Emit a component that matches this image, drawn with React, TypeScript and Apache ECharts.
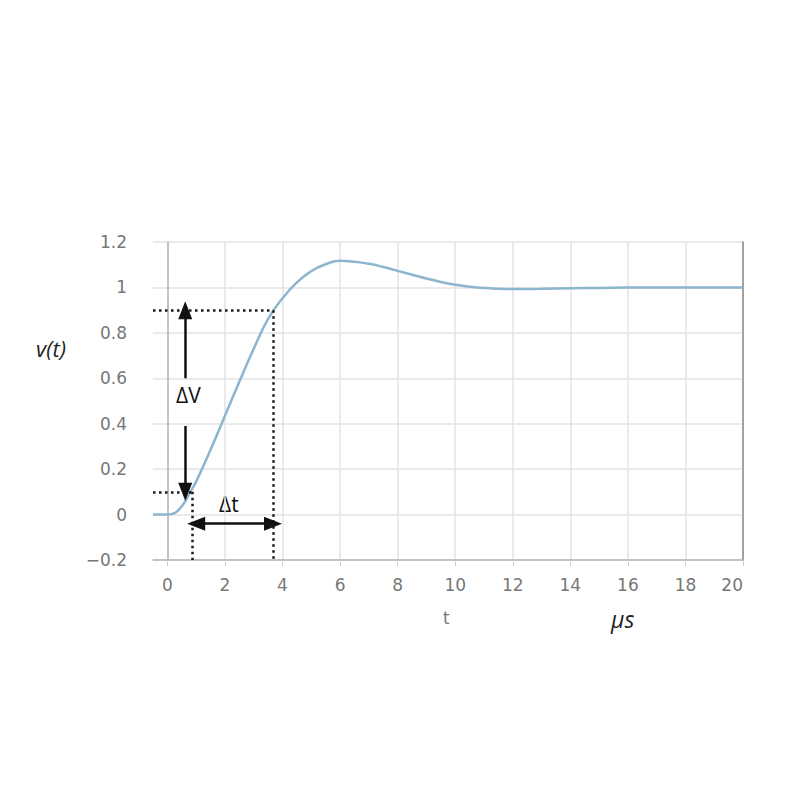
import React, { useEffect, useRef } from "react";
import * as echarts from "echarts";

// step response v(t), t in microseconds
const tValues = [-0.5, 0, 0.2, 0.4, 0.6, 0.8, 1.0, 1.5, 2.0, 2.5, 3.0, 3.5, 4.0, 4.5, 5.0, 5.5, 6.0, 6.5, 7.0, 7.5, 8.0, 8.5, 9.0, 9.5, 10, 10.5, 11, 11.5, 12, 13, 14, 15, 16, 18, 20];
const vValues = [0, 0, 0.004, 0.022, 0.055, 0.1, 0.145, 0.285, 0.435, 0.585, 0.73, 0.862, 0.952, 1.022, 1.072, 1.102, 1.117, 1.113, 1.104, 1.09, 1.073, 1.056, 1.039, 1.024, 1.012, 1.003, 0.997, 0.994, 0.993, 0.994, 0.996, 0.998, 1.0, 1.0, 1.0];

const xTicks = [0, 2, 4, 6, 8, 10, 12, 14, 16, 18, 20];

// rise-time markers
const lowLevel = 0.1;
const highLevel = 0.9;
const tLow = 0.88;
const tHigh = 3.67;
const arrowX = 0.62;
const upArrowFrom = 0.6;
const downArrowFrom = 0.39;
const dtArrowY = -0.04;
const dtArrowFrom = 1.0;

export default function App() {
  const ref = useRef<HTMLDivElement>(null);
  useEffect(() => {
    if (!ref.current) return;
    const chart = echarts.init(ref.current, undefined, { renderer: "svg" });
    const dotted = { color: "#1a1a1a", width: 2.5, type: [2.5, 3.5] as any };
    const arrowStyle = { color: "#111", width: 2.5, type: "solid" as const };
    chart.setOption({
      animation: false,
      grid: { left: 153, right: 57, top: 242, bottom: 240, containLabel: false },
      xAxis: {
        type: "value",
        min: -0.5,
        max: 20,
        axisLine: { show: true, onZero: false, lineStyle: { color: "#b5b5b5", width: 1.5 } },
        axisTick: { show: true, length: 6, customValues: xTicks, lineStyle: { color: "#cfcfcf" } },
        axisLabel: {
          customValues: xTicks,
          margin: 16,
          color: "#777",
          fontSize: 17,
          fontFamily: "DejaVu Sans",
          alignMaxLabel: "right",
        },
        splitLine: { show: true, lineStyle: { color: "#e3e3e3", width: 1.5 } },
      },
      yAxis: [
        {
          type: "value",
          min: -0.2,
          max: 1.2,
          interval: 0.2,
          axisLine: { show: true, lineStyle: { color: "#b5b5b5", width: 1.5 } },
          axisTick: { show: false },
          axisLabel: {
            margin: 26,
            color: "#777",
            fontSize: 17,
            fontFamily: "DejaVu Sans",
            formatter: (v: number) => String(Math.round(v * 10) / 10).replace("-", "\u2212"),
          },
          splitLine: { show: true, lineStyle: { color: "#e3e3e3", width: 1.5 } },
        },
        {
          type: "value",
          position: "right",
          min: -0.2,
          max: 1.2,
          axisLine: { show: true, lineStyle: { color: "#8a8a8a", width: 1.5 } },
          axisTick: { show: false },
          axisLabel: { show: false },
          splitLine: { show: false },
        },
      ],
      series: [
        {
          type: "line",
          data: tValues.map((t, i) => [t, vValues[i]]),
          smooth: 0.5,
          showSymbol: false,
          lineStyle: { color: "#8cb6cf", width: 2.5 },
          z: 3,
          markLine: {
            silent: true,
            animation: false,
            label: { show: false },
            symbolSize: [14, 18],
            data: [
              [
                { coord: [-0.5, highLevel], symbol: "none", lineStyle: dotted },
                { coord: [tHigh, highLevel], symbol: "none" },
              ],
              [
                { coord: [tHigh, highLevel], symbol: "none", lineStyle: dotted },
                { coord: [tHigh, -0.2], symbol: "none" },
              ],
              [
                { coord: [-0.5, lowLevel], symbol: "none", lineStyle: dotted },
                { coord: [tLow, lowLevel], symbol: "none" },
              ],
              [
                { coord: [tLow, lowLevel], symbol: "none", lineStyle: dotted },
                { coord: [tLow, -0.2], symbol: "none" },
              ],
              [
                { coord: [arrowX, upArrowFrom], symbol: "none", lineStyle: arrowStyle },
                { coord: [arrowX, highLevel], symbol: "triangle" },
              ],
              [
                { coord: [arrowX, downArrowFrom], symbol: "none", lineStyle: arrowStyle },
                { coord: [arrowX, lowLevel], symbol: "triangle" },
              ],
              [
                { coord: [dtArrowFrom, dtArrowY], symbol: "triangle", lineStyle: arrowStyle },
                { coord: [tHigh, dtArrowY], symbol: "triangle" },
              ],
            ],
          },
        },
      ],
      graphic: [
        { type: "text", x: 36, y: 337, style: { text: "v(t)", font: "italic 22px 'Open Sans'", fill: "#222" } },
        { type: "text", x: 176, y: 384, style: { text: "\u0394V", font: "21px 'Open Sans'", fill: "#111" } },
        { type: "text", x: 219, y: 493, style: { text: "\u0394t", font: "21px 'Open Sans'", fill: "#111" } },
        { type: "text", x: 443, y: 609, style: { text: "t", font: "17px 'DejaVu Sans'", fill: "#777" } },
        { type: "text", x: 611, y: 607, style: { text: "\u03bcs", font: "italic 23px 'Open Sans'", fill: "#222" } },
      ],
    });
    return () => chart.dispose();
  }, []);
  return (
    <div
      ref={ref}
      style={{ position: "fixed", left: 0, top: 0, width: 800, height: 800, background: "#fff" }}
    />
  );
}
